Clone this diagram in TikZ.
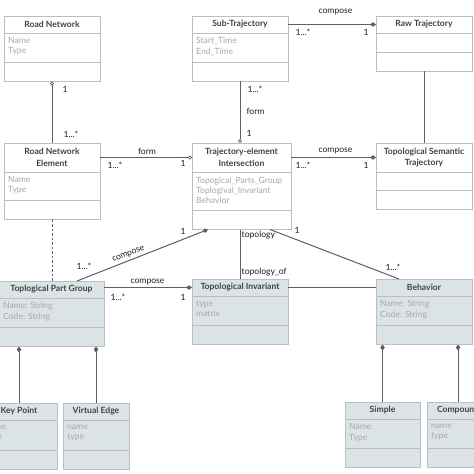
\documentclass[tikz,border=0pt]{standalone}
\usepackage{fontspec}
\setmainfont{Lato}
\usetikzlibrary{arrows.meta}
\definecolor{linec}{HTML}{606060}
\definecolor{boxc}{HTML}{BDBDBD}
\definecolor{gboxc}{HTML}{B9C0C3}
\definecolor{grayf}{HTML}{DCE3E6}
\definecolor{titlec}{HTML}{3E4346}
\definecolor{attc}{HTML}{A8A8A8}
\definecolor{labc}{HTML}{1E1E1E}
\tikzset{
 box/.style={draw=boxc, line width=0.9bp, inner sep=0pt, outer sep=0pt},
 wbox/.style={box, fill=white},
 gbox/.style={box, fill=grayf, draw=gboxc},
 sepline/.style={draw=boxc, line width=0.9bp},
 ttl/.style={font=\bfseries\fontsize{8.6}{11.5}\selectfont, text=titlec, align=center, inner sep=0pt},
 att/.style={font=\fontsize{8.6}{10.2}\selectfont, text=attc, align=left, inner sep=0pt, anchor=north west},
 lab/.style={font=\fontsize{8.6}{9}\selectfont, text=labc, inner sep=0.5bp},
 conn/.style={draw=linec, line width=1bp},
 otip/.tip={Circle[open, length=4bp, width=4bp, line width=0.8bp]},
 ftip/.tip={Diamond[length=6bp, width=4.5bp]},
}
% #1 style, #2 name, #3 left, #4 top, #5 right, #6 title separator, #7 attribute separator, #8 title, #9 attributes
\newcommand\umlbox[9][wbox]{%
 \node[#1, anchor=north west, minimum width={(#5-#3)*1bp}, minimum height={(#7-#4+19.5)*1bp}] (#2) at (#3,#4) {};
 \draw[sepline] (#3,#6) -- (#5,#6) (#3,#7) -- (#5,#7);
 \node[ttl] (#2-t) at ({(#3+#5)/2},{(#4+#6)/2}) {#8};
 \node[att] (#2-a) at ({#3+4},{#6+4.5}) {#9};
}
\begin{document}
\begin{tikzpicture}[x=1bp,y=-1bp]
\useasboundingbox (0,0) rectangle (474,474);
\clip (0,0) rectangle (474,474);
\fill[white] (0,0) rectangle (474,474);
% classes
\umlbox{rn}{4}{16}{100}{33}{62}{Road Network}{Name\\Type}
\umlbox{rne}{4}{143}{100}{172}{200}{Road Network\\Element}{Name\\Type}
\umlbox{st}{192}{16}{288}{33}{62}{Sub-Trajectory}{Start\_Time\\End\_Time}
\umlbox{raw}{376}{16}{472}{33}{52}{Raw Trajectory}{}
\umlbox{tei}{192}{143}{291}{172}{210}{Trajectory-element\\Intersection}{Topogical\_Parts\_Group\\Toplogival\_Invariant\\Behavior}
\umlbox{tst}{376}{143}{472}{172}{190}{Topological Semantic\\Trajectory}{}
\umlbox[gbox]{pg}{-1}{281}{104}{298}{327}{Toplogical Part Group}{Name: String\\Code: String}
\umlbox[gbox]{ti}{192}{279}{288}{296}{325}{Topological Invariant}{type\\matrix}
\umlbox[gbox]{beh}{376}{279}{472}{296}{325}{Behavior}{Name: String\\Code: String}
\umlbox[gbox]{kp}{-19}{403}{57}{420}{450}{Key Point}{name\\type}
\umlbox[gbox]{ve}{63}{403}{129}{420}{450}{Virtual Edge}{name\\type}
\umlbox[gbox]{sim}{345}{402}{420}{419}{448}{Simple}{Name\\Type}
\umlbox[gbox]{cmp}{427}{402}{489}{419}{448}{Compound}{name\\type}
% connectors
\draw[conn, {otip}-] (rn.south) -- (rne.north);
\draw[conn, -{otip}] (rne.east |- rne-t) -- (tei.west |- rne-t);
\draw[conn, -{otip}] (st.south) -- (st.south |- tei.north);
\draw[conn, -{ftip}] (st.east |- st-t) -- (raw.west |- st-t);
\draw[conn] (raw.south) -- (tst.north);
\draw[conn, -{ftip}] (tei.east |- rne-t) -- (tst.west |- rne-t);
\draw[conn, -{ftip}] ([xshift=25.5bp]pg.north) -- node[lab, sloped, pos=0.41, above=2bp] (lc1) {compose} ([xshift=-33.5bp]tei.south);
\draw[conn] (ti.north |- tei.south) -- (ti.north);
\draw[conn] ([xshift=28.5bp]tei.south) -- ([xshift=-25bp]beh.north);
\draw[conn, -{ftip}] (pg.east |- ti-t) -- (ti.west |- ti-t);
\draw[conn] (ti.east |- ti-t) -- (beh.west |- ti-t);
\draw[conn, dash pattern=on 2.5bp off 2bp] (rne.south) -- (rne.south |- pg.north);
\draw[conn, {ftip}-] (pg.south -| kp.north) -- (kp.north);
\draw[conn, {ftip}-] (pg.south -| ve.north) -- (ve.north);
\draw[conn, {ftip}-] (beh.south -| sim.north) -- (sim.north);
\draw[conn, {ftip}-] (beh.south -| cmp.north) -- (cmp.north);
% labels
\node[lab] (a1) at (65,89) {1};
\node[lab] (a2) at (71,134) {1...*};
\node[lab] (b1) at (147,151) {form};
\node[lab] (b2) at (115,165) {1...*};
\node[lab] (b3) at (183,163) {1};
\node[lab] (c1) at (255,89) {1...*};
\node[lab] (c2) at (255.5,111) {form};
\node[lab] (c3) at (249,133) {1};
\node[lab] (d1) at (335.5,12) {compose};
\node[lab] (d2) at (303,32) {1...*};
\node[lab] (d3) at (366,32) {1};
\node[lab] (e1) at (335.5,151) {compose};
\node[lab] (e2) at (303,165) {1...*};
\node[lab] (e3) at (366,165) {1};
\node[lab] (f1) at (84,266) {1...*};
\node[lab] (f2) at (183,231) {1};
\node[lab] (g1) at (147.5,282) {compose};
\node[lab] (g2) at (118,297) {1...*};
\node[lab] (g3) at (183,297) {1};
\node[lab, anchor=west] (h1) at (241,235) {topology};
\node[lab, anchor=west] (h2) at (241,272) {topology\_of};
\node[lab] (i1) at (297,230) {1};
\node[lab] (i2) at (393,267) {1...*};
\end{tikzpicture}
\end{document}
